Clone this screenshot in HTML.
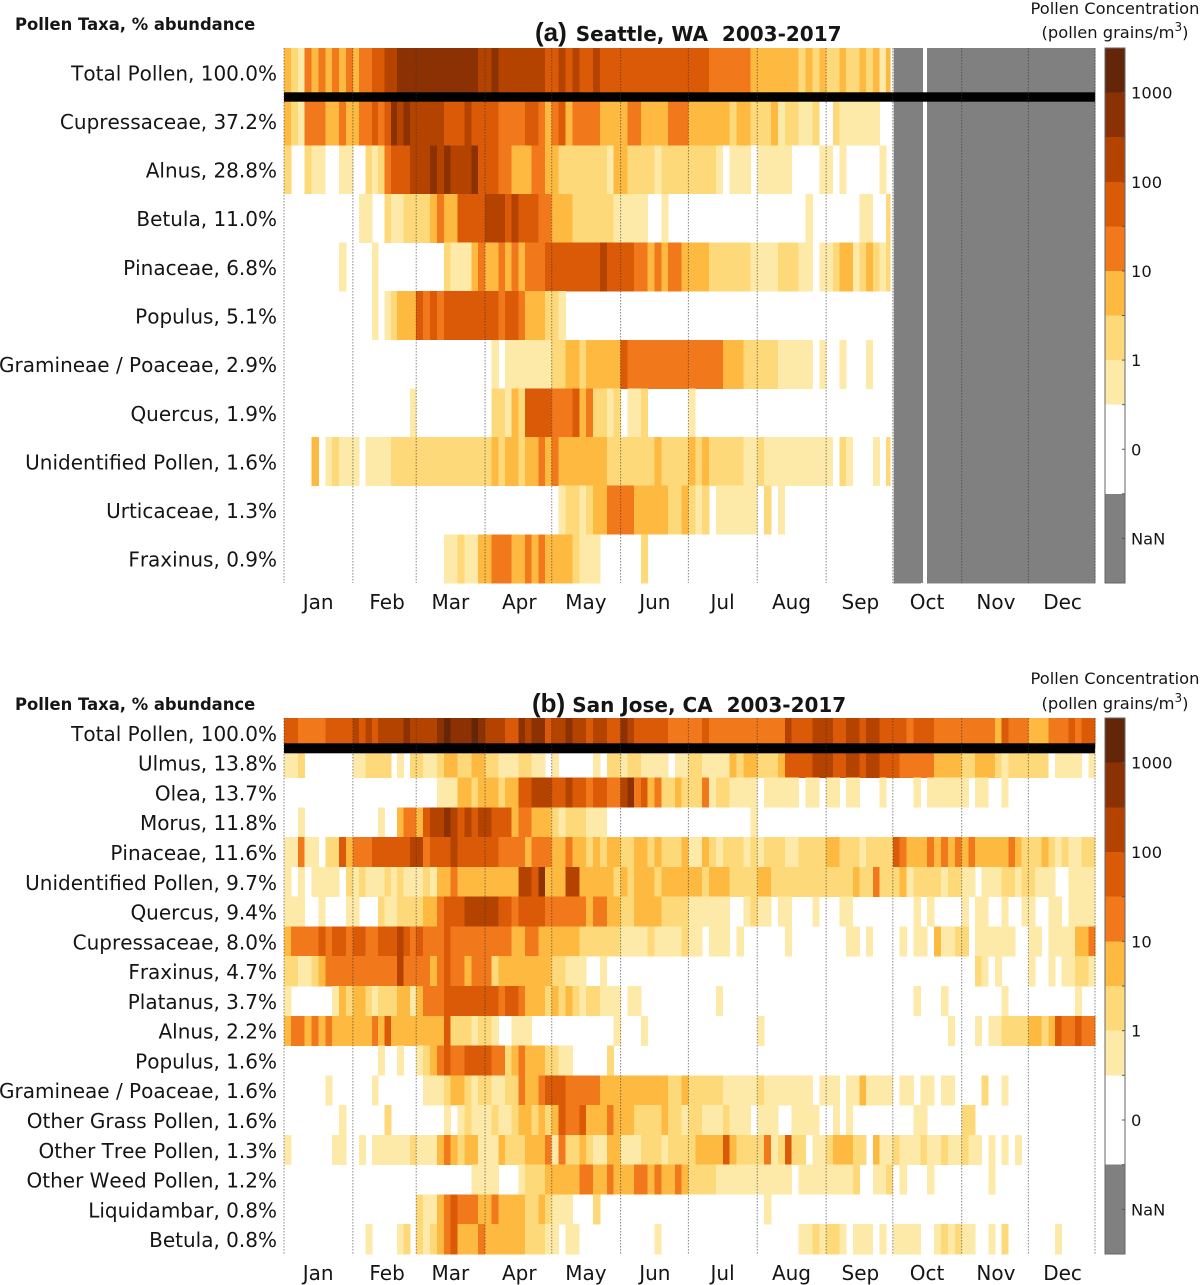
<!DOCTYPE html>
<html>
<head>
<meta charset="utf-8">
<title>Pollen concentration heatmaps</title>
<style>
html,body{margin:0;padding:0;background:#fff;}
svg{display:block;}
text{font-family:"DejaVu Sans","Liberation Sans",sans-serif;fill:#151515;}
</style>
</head>
<body>
<svg id="chart" xmlns="http://www.w3.org/2000/svg" width="1200" height="1285" viewBox="0 0 1200 1285"></svg>
<script>
// Values are concentration classes:
// null = NaN, 0 = zero, 1..8 = the eight coloured classes, low to high.
// Each series has 10 values per month.
const N = null;
const months = ['Jan','Feb','Mar','Apr','May','Jun','Jul','Aug','Sep','Oct','Nov','Dec'];
const monthSpan = [31,28.5,31,30,31,30.5,31,31,30,31,30,30];
const colorbarTicks = ['1000','100','10','1','0','NaN'];

const seattleTaxa = ['Total Pollen, 100.0%','Cupressaceae, 37.2%','Alnus, 28.8%','Betula, 11.0%','Pinaceae, 6.8%','Populus, 5.1%','Gramineae / Poaceae, 2.9%','Quercus, 1.9%','Unidentified Pollen, 1.6%','Urticaceae, 1.3%','Fraxinus, 0.9%'];
const seattleMissing = [N,N,N,N,0,N,N,N,N,N, N,N,N,N,N,N,N,N,N,N, N,N,N,N,N,N,N,N,N,N];
const seattleRecordStartGap = [273,274.4];
const seattleNanSliver = [286.7,287.6];
const seaTotal = [3,2,1,4,3,4,3,4,3,4, 3,4,4,5,5,6,6,7,7,7, 7,7,7,7,7,7,7,7,7,6, 6,7,6,6,6,6,6,6,6,5, 5,6,5,6,5,5,6,5,5,5, 5,5,5,5,5,5,5,5,5,5, 5,5,5,4,4,4,4,4,4,3, 3,3,3,3,3,3,2,3,2,3, 2,2,3,2,2,3,2,3,1,3];
const seaCupress = [3,2,1,4,4,4,3,3,4,3, 3,4,4,5,4,5,7,6,7,6, 6,6,6,6,5,5,5,6,5,5, 5,5,4,4,4,4,5,5,4,3, 4,5,3,4,4,4,4,3,3,3, 3,4,4,3,3,3,3,4,4,4, 3,3,3,3,3,3,2,3,3,2, 2,2,3,1,2,2,1,1,2,0, 0,2,1,1,1,1,1,1,0,0];
const seaAlnus = [2,0,0,2,1,1,0,0,1,1, 0,0,2,1,2,4,5,5,5,6, 6,6,7,6,7,6,6,6,7,5, 5,5,4,4,3,3,3,4,4,3, 3,2,2,2,2,2,2,2,1,3, 3,2,2,2,2,1,2,2,2,2, 2,2,2,2,1,0,1,1,1,0, 1,1,1,1,1,0,0,0,0,1, 1,0,1,0,0,0,0,0,1,0];
const seaBetula = [0,0,0,0,0,0,0,0,0,0, 0,1,1,0,0,2,1,1,2,2, 2,2,3,4,3,3,5,5,5,5, 6,6,6,5,6,5,5,5,4,4, 3,3,3,2,2,2,2,2,2,1, 1,1,1,1,0,0,1,0,0,0, 0,0,0,0,0,0,0,0,0,0, 0,0,0,0,0,0,0,1,0,0, 0,0,0,0,0,1,1,0,0,2];
const seaPinaceae = [0,0,0,0,0,0,0,0,1,0, 0,0,0,1,0,0,0,0,0,0, 0,0,0,0,2,1,1,1,3,4, 3,3,4,3,4,3,4,4,4,5, 5,5,5,5,5,5,5,6,5,5, 5,5,4,4,3,4,3,4,4,3, 3,3,3,2,2,2,2,2,2,1, 1,1,1,2,2,2,1,1,0,1, 1,2,3,3,1,2,3,2,1,2];
const seaPopulus = [0,0,0,0,0,0,0,0,0,0, 0,0,0,1,0,1,2,3,3,3, 5,4,5,4,5,5,5,5,5,5, 5,5,4,5,5,4,3,3,3,2, 2,1,0,0,0,0,0,0,0,0, 0,0,0,0,0,0,0,0,0,0, 0,0,0,0,0,0,0,0,0,0, 0,0,0,0,0,0,0,0,0,0, 0,0,0,0,0,0,0,0,0,0];
const seaGramineae = [0,0,0,0,0,0,0,0,0,0, 0,0,0,0,0,0,0,0,0,0, 0,0,0,0,0,0,0,0,0,0, 0,1,0,1,1,1,1,1,1,1, 2,2,3,3,2,3,3,3,3,3, 5,4,4,4,4,4,4,4,4,4, 4,4,4,4,4,3,3,3,2,2, 2,2,2,1,1,1,1,1,0,1, 0,0,1,0,0,0,1,0,0,0];
const seaQuercus = [0,0,0,0,0,0,0,0,0,0, 0,0,0,0,0,0,0,0,0,1, 0,0,0,0,0,0,0,0,0,0, 0,2,2,1,3,2,5,5,5,5, 4,4,4,5,3,4,2,2,1,2, 0,1,1,2,0,0,0,0,0,0, 1,0,0,0,0,0,0,0,0,0, 0,0,0,0,0,0,0,0,0,0, 0,0,0,0,0,0,0,0,0,0];
const seaUnidentified = [0,0,0,0,3,0,1,2,1,1, 1,0,1,1,1,1,2,2,2,2, 2,2,2,2,2,2,2,2,2,2, 2,3,2,3,3,2,3,3,4,3, 4,3,3,3,3,3,3,3,2,2, 2,2,2,2,2,3,2,2,2,2, 3,2,3,2,2,2,2,2,1,1, 2,1,1,1,1,1,1,1,1,1, 1,0,2,1,0,0,0,1,0,2];
const seaUrticaceae = [0,0,0,0,0,0,0,0,0,0, 0,0,0,0,0,0,0,0,0,0, 0,0,0,0,0,0,0,0,0,0, 0,0,0,0,0,0,0,0,0,0, 0,1,2,2,1,2,3,3,4,4, 4,4,3,3,3,3,3,2,2,3, 2,1,2,0,1,1,1,1,1,1, 0,2,0,1,0,0,0,0,0,0, 0,0,0,0,0,0,0,0,0,0];
const seaFraxinus = [0,0,0,0,0,0,0,0,0,0, 0,0,0,0,0,0,0,0,0,0, 0,0,0,0,1,1,2,1,1,3, 3,4,4,4,3,3,4,3,4,3, 3,3,3,2,1,1,1,0,0,0, 0,0,0,2,0,0,0,0,0,0, 0,0,0,0,0,0,0,0,0,0, 0,0,0,0,0,0,0,0,0,0, 0,0,0,0,0,0,0,0,0,0];

const sanJoseTaxa = ['Total Pollen, 100.0%','Ulmus, 13.8%','Olea, 13.7%','Morus, 11.8%','Pinaceae, 11.6%','Unidentified Pollen, 9.7%','Quercus, 9.4%','Cupressaceae, 8.0%','Fraxinus, 4.7%','Platanus, 3.7%','Alnus, 2.2%','Populus, 1.6%','Gramineae / Poaceae, 1.6%','Other Grass Pollen, 1.6%','Other Tree Pollen, 1.3%','Other Weed Pollen, 1.2%','Liquidambar, 0.8%','Betula, 0.8%'];
const sjTotal = [5,5,4,4,4,4,5,5,5,5, 6,5,6,5,6,6,6,6,7,6, 6,6,6,7,8,7,7,7,8,7, 6,6,6,5,5,7,6,7,7,5, 6,6,7,6,6,5,6,6,5,5, 7,6,5,5,5,5,5,4,4,4, 4,4,5,4,4,4,4,4,4,4, 4,4,4,4,6,5,5,5,6,6, 6,5,5,6,6,5,6,6,5,5, 5,5,4,5,5,5,4,4,4,4, 4,4,4,4,4,3,5,4,4,4, 3,3,3,4,4,4,5,4,5,5];
const sjUlmus = [1,1,2,0,0,0,0,0,0,0, 1,1,2,2,2,2,0,1,0,2, 2,1,1,2,3,3,2,2,3,3, 2,2,1,1,1,2,2,1,1,0, 1,0,0,0,0,0,1,0,2,2, 1,2,2,1,1,1,1,0,1,1, 2,2,1,1,1,1,3,2,3,3, 2,2,2,3,5,5,5,5,6,6, 6,5,5,6,6,5,6,6,5,5, 5,4,4,4,4,4,3,3,3,3, 2,2,3,3,3,2,1,2,2,2, 2,2,2,0,1,1,1,1,0,1];
const sjOlea = [0,0,0,0,0,0,0,0,0,0, 0,0,0,0,0,0,0,0,0,0, 0,0,0,1,1,1,3,3,2,3, 3,3,2,3,3,5,5,6,6,6, 5,5,6,5,5,4,5,5,4,4, 6,7,4,5,3,4,2,2,3,2, 2,2,4,1,2,2,1,1,1,1, 0,1,1,1,1,1,0,1,1,0, 1,1,0,1,1,0,0,0,1,0, 0,0,0,1,0,1,1,1,1,1, 1,0,1,1,0,0,1,0,0,0, 0,0,0,0,0,0,0,0,0,0];
const sjMorus = [0,0,1,0,0,0,0,0,0,0, 0,0,0,0,1,0,0,3,4,4, 3,5,6,6,7,6,5,6,5,6, 6,5,5,5,3,4,4,3,3,3, 2,1,2,2,2,1,1,1,0,0, 0,0,0,0,0,0,0,0,0,0, 0,0,0,0,0,0,0,0,0,1, 0,0,0,0,0,0,0,0,0,0, 0,0,0,0,0,0,0,0,0,0, 0,0,0,0,0,0,0,0,0,0, 0,0,0,0,0,0,0,0,0,0, 0,0,0,0,0,0,0,0,0,0];
const sjPinaceae = [1,1,4,1,1,0,2,2,5,3, 4,4,4,5,5,5,5,5,5,6, 6,4,5,5,5,6,5,5,5,5, 5,5,4,4,4,4,3,4,4,4, 3,3,4,3,3,2,3,2,3,3, 2,2,3,3,2,3,2,2,2,3, 1,1,3,2,1,2,2,2,1,2, 1,2,2,2,1,1,2,2,2,2, 3,3,2,2,2,1,2,2,2,2, 5,4,3,3,3,4,3,4,3,4, 3,4,3,3,3,3,3,4,3,2, 2,2,3,2,1,2,1,1,2,2];
const sjUnidentified = [1,0,1,0,1,1,1,1,0,2, 1,2,1,1,1,2,1,2,1,1, 1,2,1,3,3,4,3,3,3,3, 3,3,3,3,3,6,6,5,7,3, 3,3,6,6,3,3,3,3,3,2, 3,2,3,3,3,2,3,3,3,3, 3,3,2,3,3,3,2,2,2,2, 3,3,2,2,2,2,2,2,2,2, 2,2,2,2,3,2,2,4,2,2, 2,3,1,2,2,2,2,1,2,2, 1,1,0,1,1,1,2,2,1,2, 2,1,1,1,0,0,1,1,1,1];
const sjQuercus = [1,1,1,0,0,1,0,0,0,1, 1,0,0,0,2,1,1,2,2,2, 2,3,3,4,5,5,5,6,6,6, 6,6,5,5,4,5,5,5,5,4, 4,4,4,4,4,3,4,4,3,3, 2,2,3,3,3,3,2,2,2,2, 1,1,1,1,1,1,0,0,1,2, 1,1,0,1,1,0,0,0,1,0, 0,0,1,1,0,0,0,0,0,0, 0,0,0,1,0,1,0,0,0,0, 1,0,1,1,0,0,1,0,0,1, 1,0,0,1,1,0,1,1,1,1];
const sjCupress = [3,4,4,4,4,5,4,5,5,4, 5,5,4,4,5,5,5,6,5,4, 5,4,4,4,5,4,4,4,4,4, 4,4,4,4,3,3,4,4,3,3, 3,3,3,3,2,2,2,2,2,2, 1,1,1,1,2,1,1,1,1,2, 1,1,0,1,1,1,0,1,0,0, 0,0,0,0,1,0,0,0,0,0, 0,0,0,1,1,0,1,0,0,0, 0,1,0,1,1,0,3,1,1,2, 2,0,1,1,1,1,1,1,0,0, 1,1,0,1,1,1,1,3,3,4];
const sjFraxinus = [2,2,1,1,2,3,4,4,4,4, 4,4,4,4,4,4,4,6,4,4, 4,4,3,4,5,4,4,3,4,4, 4,2,3,3,3,3,3,3,3,3, 2,2,1,1,1,0,0,1,0,0, 0,0,0,0,0,0,0,0,0,0, 0,0,0,0,0,0,0,0,0,0, 0,0,0,0,0,0,0,0,0,0, 0,0,0,0,0,0,0,0,0,0, 0,0,0,0,0,0,0,0,0,0, 0,0,2,1,0,1,0,0,0,0, 1,0,0,1,0,1,1,2,2,1];
const sjPlatanus = [1,0,0,0,0,0,0,1,3,2, 3,3,2,1,2,2,2,3,3,1, 3,4,4,4,5,5,5,5,5,5, 5,5,4,5,5,4,3,3,3,2, 3,2,3,2,1,2,2,1,1,1, 0,1,1,0,0,0,0,0,0,0, 0,0,0,0,1,0,0,0,0,0, 0,0,0,0,0,0,0,0,0,0, 0,0,0,0,0,0,0,0,0,0, 0,0,0,1,0,0,0,1,0,0, 0,0,0,0,0,0,1,0,0,0, 0,0,0,0,0,0,0,1,0,0];
const sjAlnus = [3,4,4,3,4,3,4,3,3,3, 3,3,3,4,3,5,3,3,3,3, 3,3,3,3,5,2,2,2,1,2, 2,1,0,0,1,1,1,0,0,0, 0,0,0,0,0,0,0,0,0,1, 0,0,0,1,0,0,0,0,0,0, 0,0,0,0,0,0,0,0,0,0, 1,0,0,0,0,0,0,0,0,0, 0,0,0,0,0,0,0,0,0,0, 0,0,0,0,0,0,0,0,1,0, 0,0,1,0,1,1,2,2,2,2, 3,3,2,3,5,4,4,5,4,4];
const sjPopulus = [0,0,0,0,0,0,0,0,0,0, 0,0,0,0,1,0,0,1,0,0, 1,2,3,4,5,4,4,5,5,5, 5,4,4,2,3,4,3,3,3,2, 2,1,1,0,0,0,0,0,2,0, 0,0,0,0,0,0,0,0,0,0, 0,0,0,0,0,0,0,0,0,0, 0,0,0,0,0,0,0,0,0,0, 0,0,0,0,0,0,0,0,0,0, 0,0,0,0,0,0,0,0,0,0, 0,0,0,0,0,0,0,0,0,0, 0,0,0,0,0,0,0,0,0,0];
const sjGramineae = [0,0,0,0,0,0,1,0,0,0, 0,0,0,1,0,0,0,0,0,0, 0,1,1,1,2,3,3,2,1,2, 2,1,1,2,2,4,3,3,4,5, 5,5,4,4,4,4,4,3,3,3, 3,3,3,3,3,3,3,2,2,3, 2,2,2,2,2,1,1,1,1,1, 2,1,1,1,1,1,1,1,0,1, 1,1,0,1,1,3,1,1,1,1, 0,1,1,0,1,1,0,1,1,0, 0,0,0,2,0,0,1,0,0,0, 0,0,0,0,0,0,0,0,0,0];
const sjOtherGrass = [0,0,0,0,0,0,0,0,1,0, 0,0,0,0,0,2,0,0,0,0, 0,0,0,0,1,0,1,2,1,1, 1,2,1,1,2,3,3,2,3,2, 3,5,4,4,5,3,3,3,4,3, 3,3,2,2,2,2,3,2,2,1, 2,2,1,1,1,2,1,1,1,0, 1,1,1,0,0,1,1,1,1,0, 0,1,0,1,0,0,0,0,0,0, 0,0,0,1,1,0,0,0,0,0, 2,2,0,0,0,0,0,0,0,0, 0,0,0,0,0,0,0,0,0,0];
const sjOtherTree = [1,0,0,0,0,0,0,1,1,0, 0,1,0,1,1,1,1,1,1,2, 1,1,1,3,4,3,2,3,3,1, 1,1,3,2,2,2,3,3,3,4, 1,4,2,2,3,2,1,1,3,3, 1,1,1,2,2,2,1,2,2,2, 2,3,3,3,3,5,3,2,2,2, 2,4,1,2,5,2,2,0,1,1, 2,3,3,3,2,2,0,3,1,1, 2,1,1,1,2,1,1,2,1,1, 2,1,1,0,1,0,1,0,1,0, 0,0,0,0,0,0,0,0,0,0];
const sjOtherWeed = [0,0,0,0,0,0,0,0,0,0, 0,0,0,0,0,0,0,0,0,0, 0,0,0,0,0,0,0,0,1,1, 1,1,0,0,0,1,2,2,2,3, 3,3,3,3,4,4,3,3,4,3, 3,3,4,4,3,4,3,3,4,3, 2,2,2,2,1,1,1,1,1,1, 1,1,1,1,1,0,1,1,1,1, 1,1,1,1,2,0,0,1,1,2, 0,1,0,0,0,1,0,0,0,0, 0,0,0,0,1,0,0,0,0,0, 0,0,0,0,0,0,0,0,0,0];
const sjLiquidambar = [0,0,0,0,0,0,0,0,0,0, 0,0,0,0,0,0,0,0,0,0, 2,1,1,3,4,5,4,4,4,3, 3,4,3,3,3,3,2,2,3,2, 1,1,1,0,0,0,2,0,0,0, 0,0,0,0,0,0,0,0,0,0, 0,0,0,0,0,0,0,0,0,0, 0,1,0,0,0,0,0,0,0,0, 0,0,0,0,0,0,0,0,0,0, 0,0,0,0,0,0,0,0,0,0, 0,0,0,0,0,0,0,0,0,0, 0,0,0,0,0,0,0,0,0,0];
const sjBetula = [0,0,0,0,0,0,0,0,0,0, 0,0,1,0,0,0,0,1,2,0, 2,1,2,3,4,5,3,3,3,4, 3,3,3,3,3,3,2,2,2,1, 1,0,1,1,0,0,0,0,0,0, 0,0,0,0,0,1,0,0,0,0, 0,0,0,0,0,0,0,0,0,0, 0,0,0,0,0,0,1,1,2,1, 2,2,1,0,1,1,1,0,1,0, 1,1,1,1,0,0,1,2,1,2, 1,1,0,0,1,0,2,0,0,0, 0,0,0,0,1,0,0,0,0,0];

const seattleSeries = [seaTotal,seaCupress,seaAlnus,seaBetula,seaPinaceae,seaPopulus,seaGramineae,seaQuercus,seaUnidentified,seaUrticaceae,seaFraxinus];
const sanJoseSeries = [sjTotal,sjUlmus,sjOlea,sjMorus,sjPinaceae,sjUnidentified,sjQuercus,sjCupress,sjFraxinus,sjPlatanus,sjAlnus,sjPopulus,sjGramineae,sjOtherGrass,sjOtherTree,sjOtherWeed,sjLiquidambar,sjBetula];

const svg = document.getElementById('chart');
const SVGNS = 'http://www.w3.org/2000/svg';
const palette = ['#ffffff','#feeaa8','#fed97a','#feb941','#f2781c','#da5a08','#b54300','#8c3104','#642608'];
const NAN_COLOR = '#808080';
const PLOT_LEFT = 284, PLOT_WIDTH = 811;
const totalDays = monthSpan.reduce(function(a,b){return a+b;},0);

function xDay(d){ return PLOT_LEFT + d * PLOT_WIDTH / totalDays; }
function monthStart(m){ let s = 0; for(let i=0;i<m;i++){ s += monthSpan[i]; } return s; }
function colorOf(v){ return v === null ? NAN_COLOR : palette[v]; }

function make(tag, attrs, parent){
  const el = document.createElementNS(SVGNS, tag);
  for(const k in attrs){ el.setAttribute(k, attrs[k]); }
  (parent || svg).appendChild(el);
  return el;
}

function drawPanel(panel, key, top, height, taxa, series, barTop, barHeight, whiteSpan, graySpan){
  const g = make('g', {}, svg);
  
  
  const rowH = height / taxa.length;
  function yRow(i){ return top + i * rowH; }

  series.forEach(function(values, r){
    const row = make('g', {}, g);
    
    
    values.forEach(function(v, i){
      const m = Math.floor(i / 10);
      const k = i % 10;
      const d0 = monthStart(m) + k * monthSpan[m] / 10;
      const d1 = d0 + monthSpan[m] / 10;
      const x0 = xDay(d0), x1 = xDay(d1);
      if(v === 0){ return; }
      const c = make('rect', {x:x0, y:yRow(r), width:x1-x0+0.4, height:rowH+0.3, fill:colorOf(v), 'shape-rendering':'crispEdges'}, row);
      
      
    });
    const label = make('text', {x:277, y:yRow(r)+rowH/2+8, 'text-anchor':'end', 'font-size':'20', style:'font-kerning:none'}, g);
    
    
    label.textContent = taxa[r];
  });

  if(whiteSpan){
    const w = make('rect', {x:xDay(whiteSpan[0]), y:top, width:xDay(whiteSpan[1])-xDay(whiteSpan[0]), height:height, fill:'#ffffff'}, g);
    
    
  }
  if(graySpan){
    const s = make('rect', {x:xDay(graySpan[0]), y:top, width:xDay(graySpan[1])-xDay(graySpan[0]), height:height, fill:NAN_COLOR}, g);
    
    
  }

  const bar = make('rect', {x:PLOT_LEFT, y:barTop, width:PLOT_WIDTH, height:barHeight, fill:'#000'}, g);
  
  

  for(let m = 0; m <= 12; m++){
    const x = xDay(monthStart(m));
    const line = make('line', {x1:x, x2:x, y1:top, y2:top+height, stroke:'#333', 'stroke-opacity':'0.6', 'stroke-width':'1', 'stroke-dasharray':'1.5 1.5'}, g);
    
    
    if(m < 12){
      const mid = xDay(monthStart(m) + 15.4);
      const t = make('text', {x:mid, y:top+height+26, 'text-anchor':'middle', 'font-size':'20'}, g);
      
      
      t.textContent = months[m];
    }
  }

  // colour bar: two slots each for 0 and NaN, one slot per coloured class
  const slots = [8,7,6,5,4,3,2,1,0,0,null,null];
  const cbX = 1105, cbW = 20, slotH = height / slots.length;
  function yBar(i){ return top + i * slotH; }
  slots.forEach(function(v, i){
    const s = make('rect', {x:cbX, y:yBar(i), width:cbW, height:slotH+0.3, fill:colorOf(v), 'shape-rendering':'crispEdges'}, g);
    
    
    if(i > 0){
      const tk = make('line', {x1:cbX+cbW-3, x2:cbX+cbW, y1:yBar(i), y2:yBar(i), stroke:'#555', 'stroke-width':'1'}, g);
      
      
    }
  });
  const frame = make('rect', {x:cbX, y:top, width:cbW, height:height, fill:'none', stroke:'#666', 'stroke-width':'1'}, g);
  
  
  colorbarTicks.forEach(function(txt, i){
    const t = make('text', {x:1131, y:yBar(1 + i*2)+6, 'font-size':'16.3'}, g);
    
    
    t.textContent = txt;
  });
}

drawPanel('a', 'seattle', 48, 535, seattleTaxa, seattleSeries.map(function(s){ return s.concat(seattleMissing); }), 92.3, 9.4, seattleRecordStartGap, seattleNanSliver);
drawPanel('b', 'san-jose', 718, 536, sanJoseTaxa, sanJoseSeries, 743.3, 10, null, null);

function staticText(name, x, y, size, weight, anchor, html){
  const t = make('text', {x:x, y:y, 'font-size':size, 'font-weight':weight, 'text-anchor':anchor}, svg);
  
  
  t.innerHTML = html;
  return t;
}
staticText('taxa-header-a', 15, 30, '16.4', 'bold', 'start', 'Pollen Taxa, % abundance');
staticText('taxa-header-b', 15, 710, '16.4', 'bold', 'start', 'Pollen Taxa, % abundance');
staticText('title-a', 535, 41, '20', 'bold', 'start', '<tspan font-size="26" style="font-family:\'Liberation Sans\',sans-serif">(a)</tspan><tspan dx="9" xml:space="preserve">Seattle, WA  2003-2017</tspan>');
staticText('title-b', 532, 712, '20', 'bold', 'start', '<tspan font-size="26" style="font-family:\'Liberation Sans\',sans-serif">(b)</tspan><tspan dx="7" xml:space="preserve">San Jose, CA  2003-2017</tspan>');
staticText('colorbar-title-a', 1115, 14, '16.3', 'normal', 'middle', 'Pollen Concentration');
staticText('colorbar-units-a', 1115, 38, '16.3', 'normal', 'middle', '(pollen grains/m<tspan dy="-7" font-size="12">3</tspan><tspan dy="7">)</tspan>');
staticText('colorbar-title-b', 1115, 684, '16.3', 'normal', 'middle', 'Pollen Concentration');
staticText('colorbar-units-b', 1115, 709, '16.3', 'normal', 'middle', '(pollen grains/m<tspan dy="-7" font-size="12">3</tspan><tspan dy="7">)</tspan>');
</script>
</body>
</html>
